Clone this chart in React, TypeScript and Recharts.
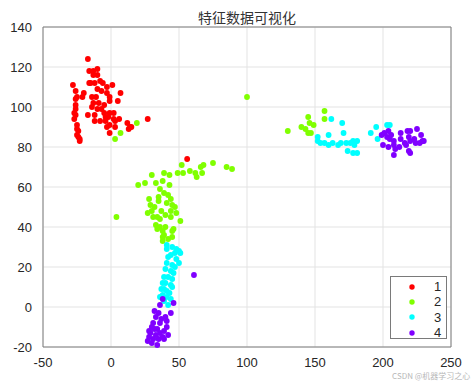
import { ScatterChart, Scatter, XAxis, YAxis, CartesianGrid, ReferenceArea, Legend } from 'recharts';

// 四类特征点 [x, y]
const class1 = [
  [-17, 124], [-16, 118], [-13, 118], [-10, 119], [-13, 116], [-10, 116], [-16, 112], [-28, 111],
  [-15, 112], [-12, 112], [-8, 113], [-6, 112], [-3, 110], [1, 111], [-26, 108], [-20, 107],
  [-21, 105], [-25, 105], [-10, 109], [-7, 108], [-3, 107], [-1, 105], [7, 107], [-11, 105],
  [-14, 105], [-26, 104], [-26, 101], [-26, 99], [-26, 96], [-13, 102], [-9, 102], [-5, 101],
  [-1, 103], [5, 103], [-14, 100], [-10, 99], [-7, 99], [-5, 97], [-1, 97], [2, 97],
  [-17, 96], [-12, 96], [-4, 95], [-2, 95], [2, 94], [-27, 94], [-25, 91], [-25, 89],
  [-25, 86], [-24, 85], [-23, 83], [-12, 93], [-8, 93], [-4, 93], [3, 93], [6, 94],
  [-1, 91], [3, 90], [-3, 90], [12, 92], [14, 90], [13, 89], [15, 90], [27, 94],
  [-1, 87], [56, 74], [-27, 97], [-24, 88], [-23, 84],
];

const class2 = [
  [19, 92], [7, 87], [3, 84], [100, 105],
  [52, 71], [68, 71], [75, 72], [85, 70], [89, 69], [66, 70], [58, 68], [62, 67],
  [67, 67], [63, 65], [49, 67], [53, 67], [30, 66], [39, 67], [43, 66], [20, 61],
  [25, 62], [33, 62], [38, 63], [43, 61], [36, 59], [39, 57], [42, 56], [44, 54],
  [28, 54], [29, 51], [35, 53], [45, 51], [47, 50], [4, 45], [27, 47], [30, 48],
  [31, 45], [34, 45], [36, 44], [44, 48], [44, 45], [51, 43], [33, 41], [36, 40],
  [40, 40], [34, 39], [46, 39], [39, 36], [38, 35], [45, 35], [38, 38], [45, 38],
  [38, 33], [42, 34], [32, 50], [37, 48], [40, 46], [48, 47], [35, 55], [41, 52],
  [130, 88], [140, 90], [145, 95], [157, 98], [146, 92], [149, 91], [143, 89], [147, 87],
  [157, 94], [145, 87],
];

const class3 = [
  [162, 94], [170, 92], [160, 86], [171, 87], [191, 87], [152, 83], [154, 82], [157, 82],
  [160, 81], [163, 82], [167, 81], [169, 82], [173, 82], [176, 82], [178, 83], [181, 83],
  [179, 81], [174, 78], [178, 77], [181, 77], [152, 85], [195, 90], [203, 91], [205, 91],
  [196, 84],
  [41, 31], [45, 30], [50, 28], [41, 29], [44, 26], [47, 27], [42, 25], [51, 27],
  [41, 22], [45, 21], [47, 20], [40, 19], [44, 18], [39, 15], [42, 15], [45, 14],
  [40, 12], [44, 11], [39, 9], [41, 8], [45, 10], [38, 6], [41, 5], [36, 5], [42, 1],
  [48, 24], [50, 22], [38, 12], [46, 17], [37, 9], [43, 7], [48, 29], [39, 3], [44, 4],
];

const class4 = [
  [204, 88], [206, 86], [203, 85], [199, 86], [200, 81], [204, 80], [208, 81], [209, 79],
  [208, 76], [213, 87], [213, 84], [216, 82], [218, 88], [220, 88], [219, 85], [220, 83],
  [223, 84], [224, 82], [225, 89], [228, 86], [229, 83], [230, 83], [227, 82], [219, 78],
  [220, 77], [217, 81], [212, 80], [208, 83], [205, 84], [201, 87],
  [61, 16], [38, 4], [46, 2], [36, 1], [44, -3], [35, -3], [33, -5], [40, -5],
  [31, -8], [36, -8], [41, -7], [30, -10], [34, -11], [39, -12], [29, -13], [33, -14],
  [38, -15], [28, -15], [31, -16], [35, -16], [39, -16], [34, -19], [28, -12], [41, -10],
  [32, -2], [37, -6], [27, -17], [30, -18], [36, -13], [42, -14], [32, -11],
];

const classNames = ['1', '2', '3', '4'];
const classColors = ['#ff0000', '#80ff00', '#00ffff', '#8000ff'];
const xTicks = [-50, 0, 50, 100, 150, 200, 250];
const yTicks = [-20, 0, 20, 40, 60, 80, 100, 120, 140];

const series = [class1, class2, class3, class4].map((pts) => pts.map(([x, y]) => ({ x, y })));

const tickStyle = { fontSize: 13, fill: '#262626', fontFamily: 'Liberation Sans, Arial, sans-serif' };

const Dot = (color: string) => (p: any) => <circle cx={p.cx} cy={p.cy} r={2.9} fill={color} />;

const LegendBox = () => (
  <div
    style={{
      width: 57,
      height: 63,
      boxSizing: 'border-box',
      border: '1px solid #7a7a7a',
      background: '#fff',
      fontFamily: 'Liberation Sans, Arial, sans-serif',
      fontSize: 13,
      color: '#262626',
      paddingTop: 2,
    }}
  >
    {classNames.map((n, i) => (
      <div key={n} style={{ display: 'flex', alignItems: 'center', height: 15.3 }}>
        <svg width={30} height={10}>
          <circle cx={21} cy={5} r={2.7} fill={classColors[i]} />
        </svg>
        <span style={{ marginLeft: 13 }}>{n}</span>
      </div>
    ))}
  </div>
);

export default function App() {
  return (
    <div style={{ position: 'fixed', left: 0, top: 0, width: 474, height: 383, background: '#fff' }}>
      <div
        style={{
          position: 'absolute',
          top: 7,
          left: 43,
          width: 408,
          textAlign: 'center',
          fontFamily: 'Noto Sans CJK SC, sans-serif',
          fontSize: 14,
          color: '#333',
          lineHeight: '20px',
        }}
      >
        特征数据可视化
      </div>
      <ScatterChart width={474} height={383} margin={{ top: 27, right: 23, bottom: 10, left: 5 }}>
        <CartesianGrid stroke="#e3e3e3" />
        <XAxis
          type="number"
          dataKey="x"
          domain={[-50, 250]}
          ticks={xTicks}
          tick={tickStyle}
          tickLine={false}
          axisLine={false}
          tickMargin={5}
          height={26}
          interval={0}
        />
        <YAxis
          type="number"
          dataKey="y"
          domain={[-20, 140]}
          ticks={yTicks}
          tick={tickStyle}
          tickLine={false}
          axisLine={false}
          tickMargin={5}
          width={38}
          interval={0}
        />
        <ReferenceArea x1={-50} x2={250} y1={-20} y2={140} fill="none" stroke="#7f7f7f" strokeWidth={1} />
        {series.map((data, i) => (
          <Scatter
            key={classNames[i]}
            name={classNames[i]}
            data={data}
            fill={classColors[i]}
            shape={Dot(classColors[i])}
            isAnimationActive={false}
          />
        ))}
        <Legend
          layout="vertical"
          align="center"
          verticalAlign="middle"
          content={() => <LegendBox />}
          wrapperStyle={{ left: 390, top: 276, width: 57, height: 63 }}
        />
      </ScatterChart>
      <div
        style={{
          position: 'absolute',
          left: 392,
          top: 371,
          fontFamily: 'Noto Sans CJK SC, sans-serif',
          fontSize: 8,
          lineHeight: '10px',
          color: '#b8b8b8',
        }}
      >
        CSDN @机器学习之心
      </div>
    </div>
  );
}
